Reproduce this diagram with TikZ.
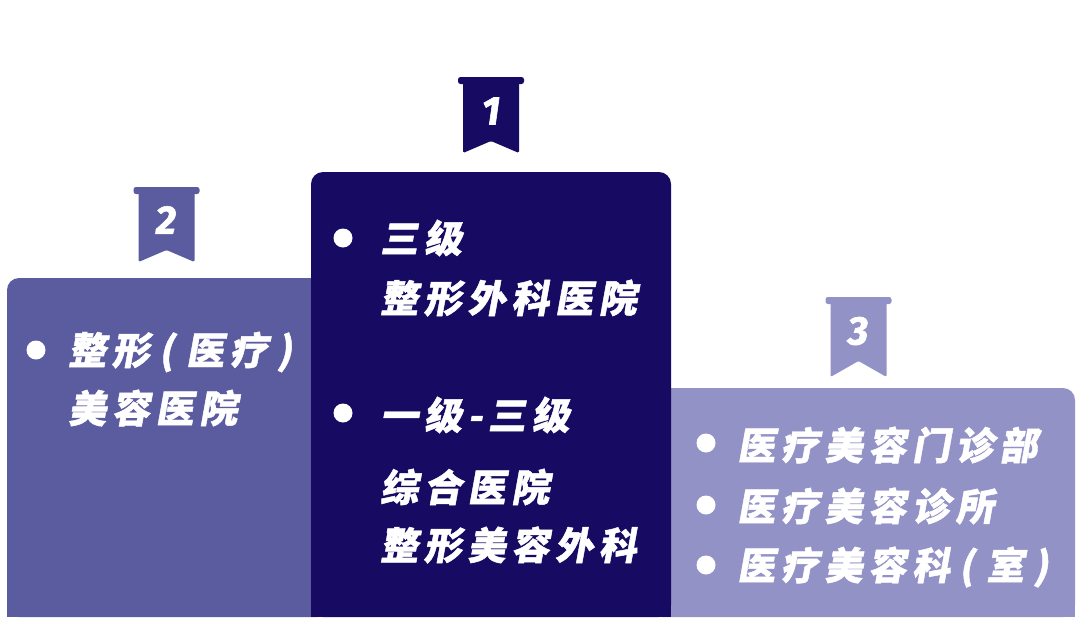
\documentclass[tikz,border=0pt]{standalone}
\usepackage{fontspec}
\newfontfamily\cjk[FakeSlant=0.18,LetterSpace=15,FakeBold=1.2]{Noto Sans CJK SC}
\newfontfamily\numfont[FakeBold=1.5]{Fira Sans}
\definecolor{cmid}{HTML}{160A62}
\definecolor{cleft}{HTML}{5B5BA0}
\definecolor{cright}{HTML}{9292C6}
\newcommand{\lp}{\hspace{9pt}(\hspace{12pt}}
\newcommand{\rp}{\hspace{9pt})}
\begin{document}
\begin{tikzpicture}[x=1pt,y=-1pt,
  txt/.style={anchor=west,inner sep=0pt,text=white,font=\cjk\bfseries\fontsize{38}{38}\selectfont},
  dot/.style={circle,fill=white,minimum size=19pt,inner sep=0pt},
  num/.style={text=white,inner sep=0pt,font=\numfont\bfseries\itshape\fontsize{40}{40}\selectfont}]
\useasboundingbox (0,0) rectangle (1080,624);
\fill[white] (0,0) rectangle (1080,624);
% boxes
\fill[cleft,rounded corners=12pt] (7,617) |- (330,278) |- cycle;
\fill[cright,rounded corners=12pt] (650,617) |- (1075,388) |- cycle;
\fill[cmid,rounded corners=12pt] (311,617) |- (671,172) |- cycle;
\fill[cmid] (311,600) rectangle (671,617);
\fill[cleft] (7,600) rectangle (40,617);
\fill[cright] (1040,600) rectangle (1075,617);
% banners
\newcommand{\banner}[5]{%
  \fill[#1,rounded corners=1.5pt] (#2-28,#3) -- (#2+28,#3) -- (#2+28,#3+#4) -- (#2,#3+#4-#5) -- (#2-28,#3+#4) -- cycle;
  \fill[#1,rounded corners=2.5pt] (#2-33,#3-3) rectangle (#2+33,#3+4);
}
\banner{cmid}{491}{80}{73}{12}
\banner{cleft}{166.5}{190}{72}{12}
\banner{cright}{858.5}{300}{77}{16}
\node[num] (n1) at (491,111) {1};
\node[num] (n2) at (166,220) {2};
\node[num] (n3) at (858,331) {3};
% left text
\node[dot] (d1) at (36,350) {};
\node[txt] (l1) at (68,352) {整形\lp 医疗\rp};
\node[txt] (l2) at (68,408) {美容医院};
% middle text
\node[dot] (d2) at (343,238) {};
\node[txt] (m1) at (380,238) {三级};
\node[txt] (m2) at (380,298) {整形外科医院};
\node[dot] (d3) at (343,413) {};
\node[txt] (m3) at (380,415) {一级-三级};
\node[txt] (m4) at (380,487) {综合医院};
\node[txt] (m5) at (380,545) {整形美容外科};
% right text
\node[dot] (d4) at (706,443) {};
\node[txt] (r1) at (737,445) {医疗美容门诊部};
\node[dot] (d5) at (706,505) {};
\node[txt] (r2) at (737,506) {医疗美容诊所};
\node[dot] (d6) at (706,565) {};
\node[txt] (r3) at (737,567) {医疗美容科\lp 室\rp};
\end{tikzpicture}
\end{document}
